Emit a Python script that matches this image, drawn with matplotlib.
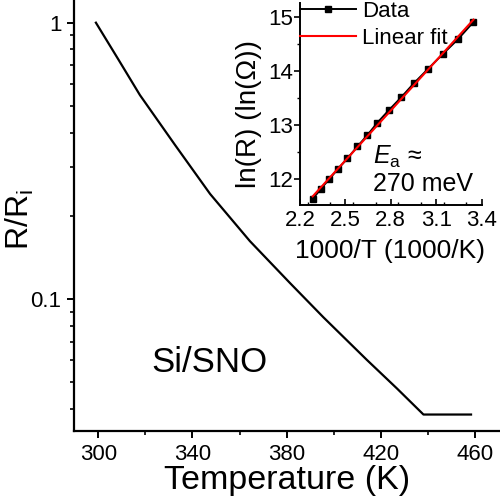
import numpy as np
import matplotlib.pyplot as plt
from matplotlib.ticker import LogLocator, NullFormatter, FixedLocator, MultipleLocator

plt.rcParams['font.family'] = ['Liberation Sans', 'DejaVu Sans']
plt.rcParams['mathtext.fontset'] = 'custom'
plt.rcParams['mathtext.it'] = 'Liberation Sans:italic'
plt.rcParams['mathtext.rm'] = 'Liberation Sans'

# main curve: normalised resistance vs temperature
temp_K = [299.0, 308.5, 317.7, 332.6, 347.5, 364.4, 381.4, 395.6, 414.0, 426.8, 438.1, 458.3]
r_norm = [1.0, 0.737, 0.547, 0.361, 0.240, 0.162, 0.1143, 0.0859, 0.0603, 0.0475, 0.0382, 0.0382]

# inset: Arrhenius plot
inv_T = [2.284, 2.336, 2.391, 2.453, 2.514, 2.580, 2.646, 2.712, 2.791, 2.870,
         2.954, 3.046, 3.145, 3.244, 3.347]
ln_R = [11.63, 11.81, 11.99, 12.19, 12.38, 12.60, 12.81, 13.04, 13.28, 13.51,
        13.77, 14.03, 14.31, 14.58, 14.90]

fig = plt.figure(figsize=(5.0, 5.01), dpi=100)

ax = fig.add_axes([0.148, 0.1397, 0.852, 0.8603])
ax.plot(temp_K, r_norm, color='black', lw=1.6)
ax.set_yscale('log')
ax.set_xlim(289.7, 470.6)
ax.set_ylim(0.0333, 1.208)
ax.xaxis.set_major_locator(FixedLocator([300, 340, 380, 420, 460]))
ax.xaxis.set_minor_locator(FixedLocator([320, 360, 400, 440]))
ax.yaxis.set_major_locator(FixedLocator([0.1, 1]))
ax.yaxis.set_minor_locator(LogLocator(base=10, subs=np.arange(2, 10)))
ax.yaxis.set_minor_formatter(NullFormatter())
ax.set_yticklabels(['0.1', '1'])
for s in ['top', 'right']:
    ax.spines[s].set_visible(False)
for s in ['left', 'bottom']:
    ax.spines[s].set_linewidth(1.6)
ax.tick_params(which='major', direction='out', length=5, width=1.4, labelsize=16, pad=4)
ax.tick_params(which='minor', direction='out', length=3, width=1.2)
ax.set_xlabel('Temperature (K)', fontsize=24.5, labelpad=0)
ax.set_ylabel(r'R/R$_\mathregular{i}$', fontsize=23, va='center')
ax.yaxis.set_label_coords(-0.127, 0.49)
ax.text(0.317, 0.16, 'Si/SNO', transform=ax.transAxes, fontsize=25,
        ha='center', va='center')

# inset
ins = fig.add_axes([0.6, 0.591, 0.363, 0.403])
fit = np.polyfit(inv_T, ln_R, 1)
ins.plot(inv_T, ln_R, color='black', lw=1.4, marker='s', ms=4, label='Data')
xfit = np.array([inv_T[0], inv_T[-1]])
ins.plot(xfit, np.polyval(fit, xfit), color='red', lw=1.5, label='Linear fit')
ins.set_xlim(2.2, 3.4)
ins.set_ylim(11.52, 15.25)
ins.xaxis.set_major_locator(FixedLocator([2.2, 2.5, 2.8, 3.1, 3.4]))
ins.xaxis.set_minor_locator(MultipleLocator(0.15))
ins.yaxis.set_major_locator(MultipleLocator(1))
ins.yaxis.set_minor_locator(MultipleLocator(0.5))
for s in ['top', 'right']:
    ins.spines[s].set_visible(False)
for s in ['left', 'bottom']:
    ins.spines[s].set_linewidth(1.4)
ins.tick_params(axis='y', which='major', direction='out', length=4, width=1.2, labelsize=16, pad=1)
ins.tick_params(axis='y', which='minor', direction='out', length=2.5, width=1.0)
ins.tick_params(axis='x', which='major', direction='in', length=4, width=1.2, labelsize=16, pad=4)
ins.tick_params(axis='x', which='minor', direction='in', length=2.5, width=1.0)
ins.set_xlabel('1000/T (1000/K)', fontsize=19, va='top')
ins.xaxis.set_label_coords(0.495, -0.17)
ins.set_ylabel('ln(R) (ln(\u03a9))', fontsize=20, va='center')
ins.yaxis.set_label_coords(-0.28, 0.448)
ins.legend(loc='upper left', bbox_to_anchor=(0.0, 1.01), frameon=False, fontsize=16,
           handlelength=2.5, handletextpad=0.3, borderaxespad=0, borderpad=0,
           labelspacing=0.25)
ins.text(0.40, 0.238, '$E_\\mathregular{a}$ \u2248', transform=ins.transAxes, fontsize=18,
         ha='left', va='center')
ins.text(0.40, 0.104, '270 meV', transform=ins.transAxes, fontsize=18,
         ha='left', va='center')

fig.savefig('out.png', dpi=100)
